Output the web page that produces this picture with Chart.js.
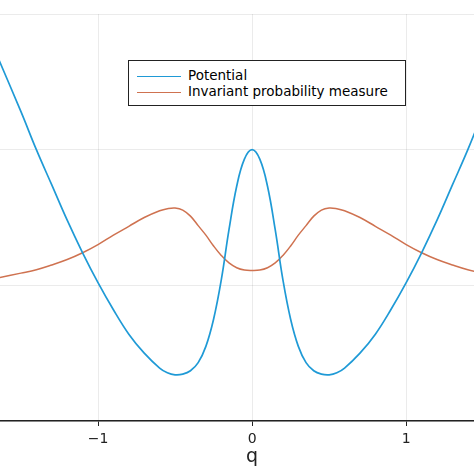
<!DOCTYPE html>
<html><head><meta charset="utf-8">
<script src="https://cdn.jsdelivr.net/npm/chart.js@4"></script>
<style>
html,body{margin:0;padding:0;background:#fff;}
#wrap{position:relative;width:474px;height:474px;}
#leg{position:absolute;left:128px;top:60px;width:276px;height:44px;border:1.3px solid #222;background:#fff;font-family:"DejaVu Sans";font-size:13.5px;color:#000;}
.row{position:absolute;left:8px;height:16px;line-height:16px;}
.sw{display:inline-block;width:44px;height:0;border-top:1.5px solid;vertical-align:middle;margin-right:7px;}
#xt{position:absolute;left:242px;top:444px;width:20px;text-align:center;font-family:"DejaVu Sans";font-size:19px;color:#222;}
</style></head><body>
<div id="wrap"><canvas id="c" width="474" height="474"></canvas>
<div id="leg"><div class="row" style="top:6px"><span class="sw" style="border-color:#1f9ad6"></span>Potential</div>
<div class="row" style="top:22px"><span class="sw" style="border-color:#cf7250"></span>Invariant probability measure</div></div>
<div id="xt">q</div></div>
<script>
const qHalf = [0,0.05,0.1,0.15,0.2,0.25,0.3,0.35,0.4,0.45,0.5,0.55,0.6,0.7,0.8,0.9,1.0,1.1,1.2,1.3,1.4,1.5,1.65];
const potentialHalf = [1.0,0.93,0.73,0.41,0.04,-0.25,-0.45,-0.57,-0.63,-0.655,-0.66,-0.645,-0.61,-0.50,-0.36,-0.18,0.02,0.24,0.48,0.74,1.0,1.28,1.68];
const measureHalf = [0.11,0.113,0.13,0.165,0.22,0.29,0.37,0.44,0.51,0.555,0.57,0.565,0.55,0.50,0.435,0.37,0.30,0.24,0.19,0.15,0.115,0.09,0.055];
const xTicks = [-1,0,1];
function mirror(q, v){const pts=[];for(let i=q.length-1;i>0;i--)pts.push({x:-q[i],y:v[i]});for(let i=0;i<q.length;i++)pts.push({x:q[i],y:v[i]});return pts;}
new Chart(document.getElementById('c'),{type:'line',
data:{datasets:[
{label:'Potential',data:mirror(qHalf,potentialHalf),borderColor:'#1f9ad6',borderWidth:1.7,pointRadius:0,tension:0.4},
{label:'Invariant probability measure',data:mirror(qHalf,measureHalf),borderColor:'#cf7250',borderWidth:1.5,pointRadius:0,tension:0.4}]},
options:{responsive:false,animation:false,layout:{padding:{top:14,left:0,right:0,bottom:0}},
plugins:{legend:{display:false},tooltip:{enabled:false}},
scales:{
x:{type:'linear',min:-1.636,max:1.44,afterBuildTicks:s=>{s.ticks=xTicks.map(v=>({value:v}));},
 ticks:{callback:v=>String(v).replace('-','\u2212'),font:{family:'DejaVu Sans',size:14},color:'#222',padding:5,maxRotation:0},
 grid:{color:'rgba(0,0,0,0.08)',tickLength:5,tickColor:'#222'},border:{color:'#222',width:1.5},
 afterFit:s=>{s.height=53;}},
y:{min:-1,max:2,ticks:{display:false,stepSize:1},grid:{color:'rgba(0,0,0,0.08)',drawTicks:false},border:{display:false},afterFit:s=>{s.width=0;}}
}}});
</script></body></html>
